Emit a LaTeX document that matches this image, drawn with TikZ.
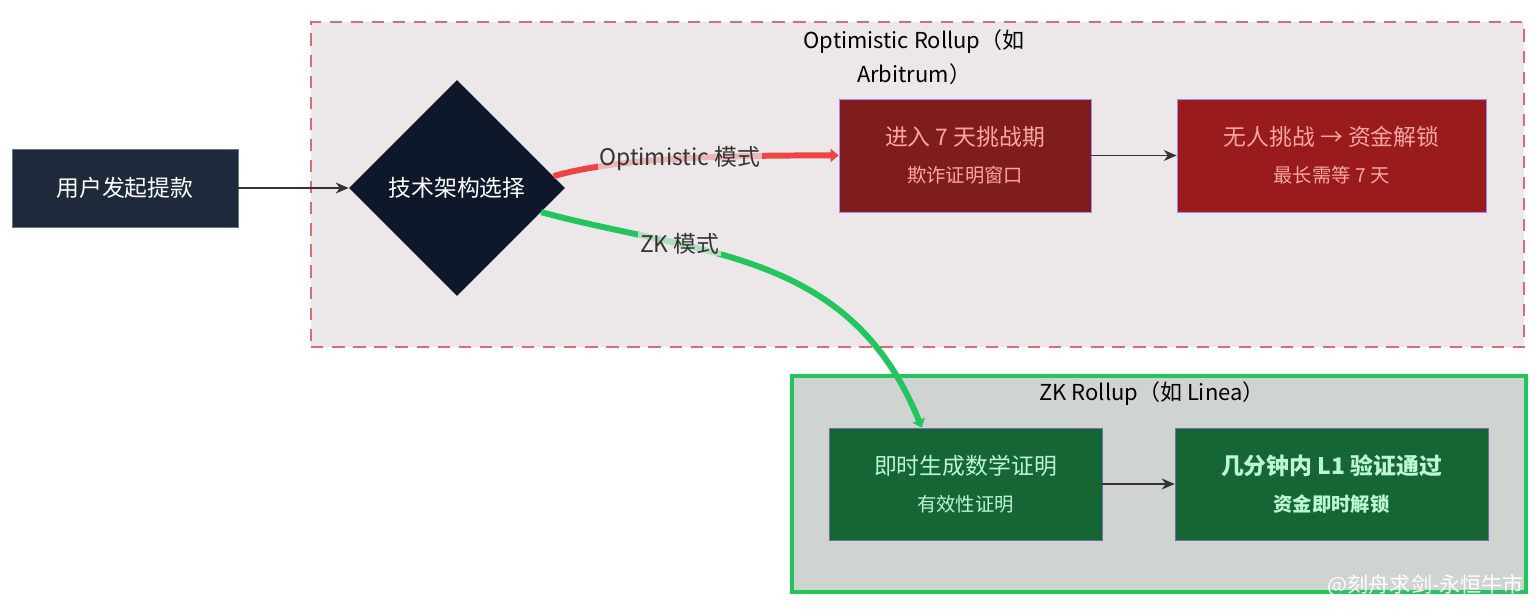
\documentclass[tikz,border=0pt]{standalone}
\usepackage{fontspec}
\setmainfont{Noto Sans CJK SC}
\usepackage{xcolor}
\usepackage{tikz}
\usetikzlibrary{shapes,arrows.meta,positioning,calc}
\definecolor{navybox}{RGB}{30,41,59}
\definecolor{navydark}{RGB}{15,23,42}
\definecolor{slateline}{RGB}{100,116,139}
\definecolor{optfill}{RGB}{236,232,234}
\definecolor{optline}{RGB}{214,110,118}
\definecolor{zkfill}{RGB}{208,212,208}
\definecolor{zkline}{RGB}{34,197,94}
\definecolor{redphase}{RGB}{127,29,29}
\definecolor{redphasetwo}{RGB}{153,27,27}
\definecolor{redtext}{RGB}{252,165,165}
\definecolor{greenphase}{RGB}{22,101,52}
\definecolor{greentext}{RGB}{187,247,208}
\definecolor{violetline}{RGB}{167,139,250}
\definecolor{indigoline}{RGB}{110,110,170}
\definecolor{redflowc}{RGB}{239,68,68}
\definecolor{darkgray}{RGB}{51,51,51}

\begin{document}
\begin{tikzpicture}[
    x=0.02cm, y=-0.02cm,
    mainfont/.style={font=\fontsize{13pt}{21pt}\selectfont},
    optcluster/.style={rectangle, draw=optline, dash pattern=on 7pt off 5pt, line width=1pt, fill=optfill, minimum width=24.26cm, minimum height=6.5cm},
    zkcluster/.style={rectangle, draw=zkline, line width=2.3pt, fill=zkfill, minimum width=14.68cm, minimum height=4.32cm},
    startbox/.style={rectangle, draw=slateline, fill=navybox, text=white, mainfont, minimum width=4.52cm, minimum height=1.56cm},
    decision/.style={diamond, fill=navydark, text=white, mainfont, minimum width=4.32cm, minimum height=4.32cm, inner sep=0pt},
    phase/.style={rectangle, draw=violetline, text=redtext, mainfont, minimum height=2.26cm, align=center},
    zkphase/.style={rectangle, draw=indigoline, fill=greenphase, text=greentext, mainfont, minimum height=2.24cm, align=center},
    arrow/.style={-{Stealth[length=2.6mm,width=2.2mm]}, color=darkgray, semithick},
    redflow/.style={-{Triangle[length=1.6mm,width=2.6mm]}, color=redflowc, line width=3.4pt},
    greenflow/.style={-{Triangle[length=1.6mm,width=2.6mm]}, color=zkline, line width=3.4pt},
    flowlabel/.style={fill=optfill, fill opacity=0.7, text opacity=1, text=darkgray, mainfont, inner sep=1pt}
]
\useasboundingbox (0,0) rectangle (1536,614);

% Clusters
\node[optcluster] (optbox) at (917.5,184.5) {};
\node[align=center, font=\fontsize{12.5pt}{19pt}\selectfont] (opttitle) at (914,57) {Optimistic Rollup（如\\Arbitrum）};
\node[zkcluster] (zkbox) at (1159,484) {};
\node[font=\fontsize{12.5pt}{19pt}\selectfont] (zktitle) at (1152,394) {ZK Rollup（如 Linea）};

% Start and decision
\node[startbox] (usr) at (125,188) {用户发起提款};
\node[decision] (dec) at (457,188) {技术架构选择};

% Optimistic path
\node[phase, fill=redphase, minimum width=5.04cm] (ph1) at (965,155.5) {进入 7 天挑战期\\{\fontsize{11pt}{21pt}\selectfont 欺诈证明窗口}};
\node[phase, fill=redphasetwo, minimum width=6.18cm] (ph2) at (1331.5,155.5) {无人挑战 → 资金解锁\\{\fontsize{11pt}{21pt}\selectfont 最长需等 7 天}};

% ZK path
\node[zkphase, minimum width=5.46cm] (zk1) at (965.5,484) {即时生成数学证明\\{\fontsize{11pt}{21pt}\selectfont 有效性证明}};
\node[zkphase, minimum width=6.26cm, font=\fontsize{13pt}{21pt}\selectfont\bfseries] (zk2) at (1331.5,484) {几分钟内 L1 验证通过\\{\fontsize{11pt}{21pt}\selectfont\bfseries 资金即时解锁}};

% Watermark
\node[text=white, font=\fontsize{12pt}{14pt}\selectfont, anchor=east] (mark) at (1530,585) {@刻舟求剑-永恒牛市};

% Arrows
\draw[arrow] (usr) -- (dec);
\draw[arrow] (ph1) -- (ph2);
\draw[arrow] (zk1) -- (zk2);
\draw[redflow] (dec.7) .. controls (610,160) and (700,155) .. (ph1.west)
    node[flowlabel, pos=0.55] (optlabel) {Optimistic 模式};
\draw[greenflow] (dec.-16) .. controls (700,255) and (850,250) .. ($(zk1.north west)!0.34!(zk1.north east)$)
    node[flowlabel, pos=0.3] (zklabel) {ZK 模式};

\end{tikzpicture}
\end{document}
